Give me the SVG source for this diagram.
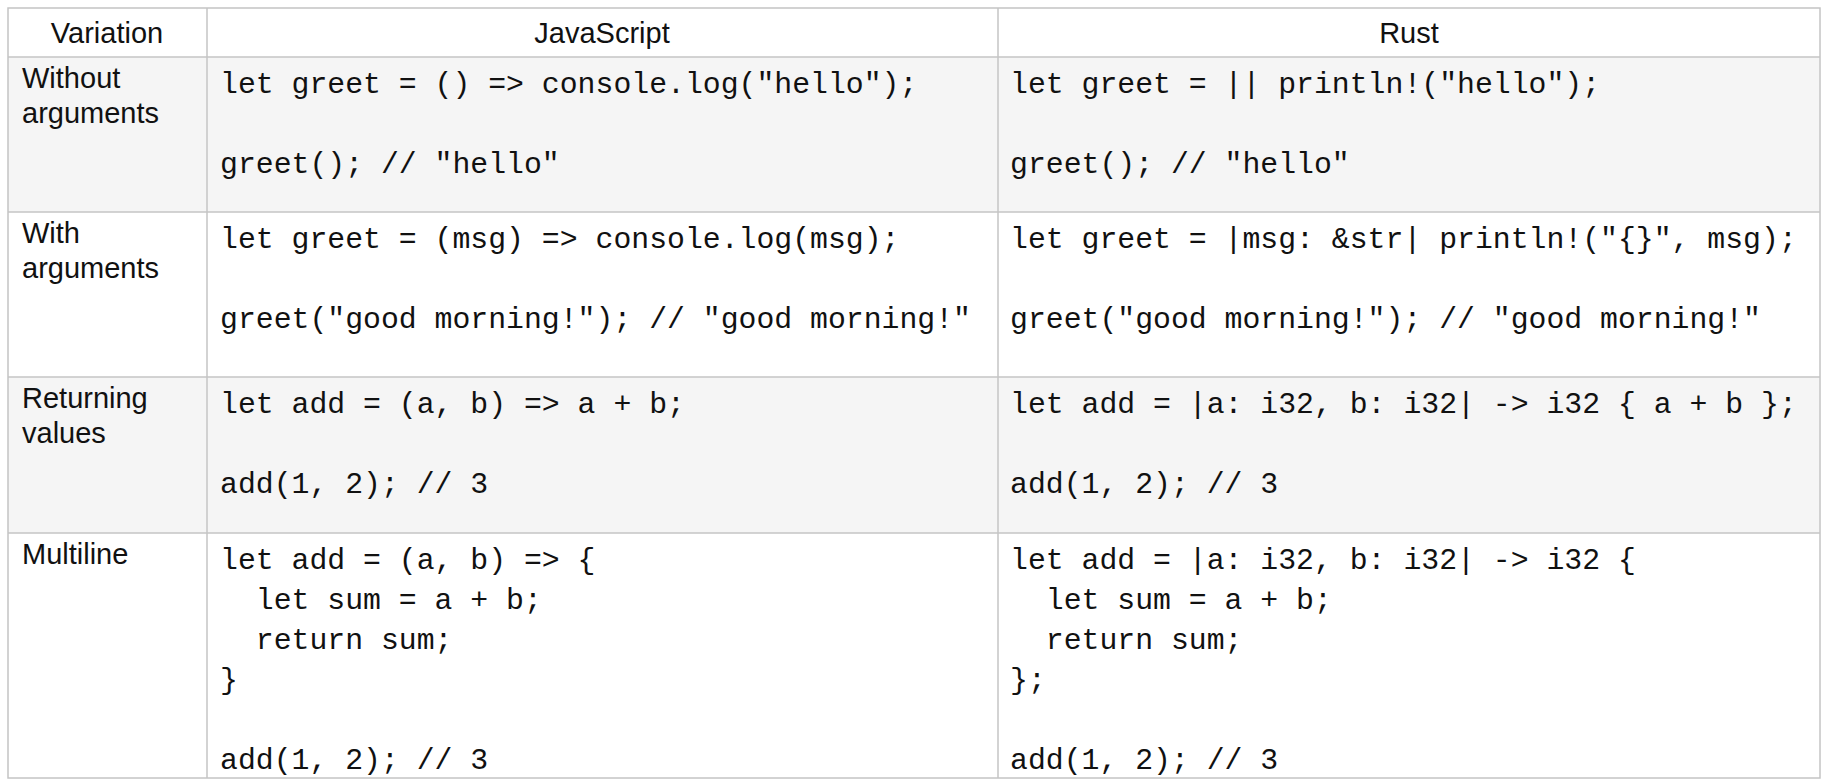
<svg xmlns="http://www.w3.org/2000/svg" width="1828" height="784" viewBox="0 0 1828 784">
<style>
.l{font-family:"Liberation Sans",Arial,sans-serif;font-size:29px;fill:#111}
.c{font-family:"Liberation Mono","DejaVu Sans Mono",monospace;font-size:29.8px;fill:#111;white-space:pre}
.g{fill:#f5f5f5}
.ln{stroke:#c4c4c4;stroke-width:1.5;fill:none}
</style>
<rect width="1828" height="784" fill="#fff"/>
<rect class="g" x="8" y="57" width="1812" height="155"/>
<rect class="g" x="8" y="377" width="1812" height="156"/>
<g id="grid">
<rect class="ln" x="8" y="8" width="1812" height="770"/>
<line class="ln" x1="8" y1="57" x2="1820" y2="57"/>
<line class="ln" x1="8" y1="212" x2="1820" y2="212"/>
<line class="ln" x1="8" y1="377" x2="1820" y2="377"/>
<line class="ln" x1="8" y1="533" x2="1820" y2="533"/>
<line class="ln" x1="207" y1="8" x2="207" y2="778"/>
<line class="ln" x1="998" y1="8" x2="998" y2="778"/>
</g>
<g id="header">
<text class="l" x="107" y="43" text-anchor="middle">Variation</text>
<text class="l" x="602" y="43" text-anchor="middle">JavaScript</text>
<text class="l" x="1409" y="43" text-anchor="middle">Rust</text>
</g>
<g id="row1">
<text class="l" x="22" y="88">Without</text><text class="l" x="22" y="123">arguments</text>
<text class="c" x="220" y="93">let greet = () =&gt; console.log("hello");</text>
<text class="c" x="220" y="173">greet(); // "hello"</text>
<text class="c" x="1010" y="93">let greet = || println!("hello");</text>
<text class="c" x="1010" y="173">greet(); // "hello"</text>
</g>
<g id="row2">
<text class="l" x="22" y="243">With</text><text class="l" x="22" y="278">arguments</text>
<text class="c" x="220" y="248">let greet = (msg) =&gt; console.log(msg);</text>
<text class="c" x="220" y="328">greet("good morning!"); // "good morning!"</text>
<text class="c" x="1010" y="248">let greet = |msg: &amp;str| println!("{}", msg);</text>
<text class="c" x="1010" y="328">greet("good morning!"); // "good morning!"</text>
</g>
<g id="row3">
<text class="l" x="22" y="408">Returning</text><text class="l" x="22" y="443">values</text>
<text class="c" x="220" y="413">let add = (a, b) =&gt; a + b;</text>
<text class="c" x="220" y="493">add(1, 2); // 3</text>
<text class="c" x="1010" y="413">let add = |a: i32, b: i32| -&gt; i32 { a + b };</text>
<text class="c" x="1010" y="493">add(1, 2); // 3</text>
</g>
<g id="row4">
<text class="l" x="22" y="564">Multiline</text>
<text class="c" x="220" y="569">let add = (a, b) =&gt; {</text>
<text class="c" x="220" y="609">  let sum = a + b;</text>
<text class="c" x="220" y="649">  return sum;</text>
<text class="c" x="220" y="689">}</text>
<text class="c" x="220" y="769">add(1, 2); // 3</text>
<text class="c" x="1010" y="569">let add = |a: i32, b: i32| -&gt; i32 {</text>
<text class="c" x="1010" y="609">  let sum = a + b;</text>
<text class="c" x="1010" y="649">  return sum;</text>
<text class="c" x="1010" y="689">};</text>
<text class="c" x="1010" y="769">add(1, 2); // 3</text>
</g>
</svg>
